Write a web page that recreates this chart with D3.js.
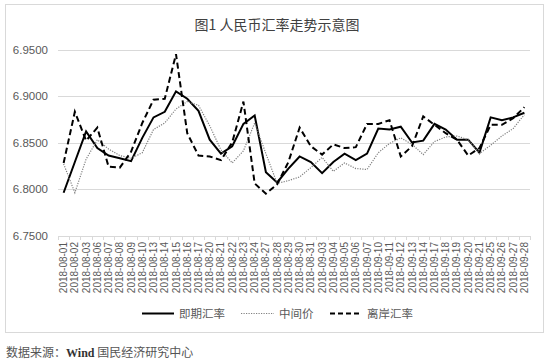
<!DOCTYPE html>
<html><head><meta charset="utf-8">
<script src="https://cdn.jsdelivr.net/npm/d3@7"></script>
<style>body{margin:0;background:#fff}svg{display:block}</style>
</head><body>
<svg id="c" width="550" height="364"></svg>
<script>
const dates = ["2018-08-01","2018-08-02","2018-08-03","2018-08-06","2018-08-07","2018-08-08","2018-08-09","2018-08-10","2018-08-13","2018-08-14","2018-08-15","2018-08-16","2018-08-17","2018-08-20","2018-08-21","2018-08-22","2018-08-23","2018-08-24","2018-08-27","2018-08-28","2018-08-29","2018-08-30","2018-08-31","2018-09-03","2018-09-04","2018-09-05","2018-09-06","2018-09-07","2018-09-10","2018-09-11","2018-09-12","2018-09-13","2018-09-14","2018-09-17","2018-09-18","2018-09-19","2018-09-20","2018-09-21","2018-09-25","2018-09-26","2018-09-27","2018-09-28"];
const spot = [6.796,6.829,6.862,6.844,6.836,6.833,6.830,6.855,6.877,6.883,6.905,6.897,6.884,6.853,6.838,6.846,6.870,6.879,6.818,6.807,6.822,6.835,6.829,6.817,6.829,6.838,6.831,6.838,6.865,6.864,6.867,6.850,6.852,6.870,6.864,6.853,6.853,6.839,6.877,6.874,6.877,6.882];
const central = [6.827,6.796,6.832,6.853,6.843,6.836,6.833,6.839,6.864,6.871,6.886,6.894,6.890,6.868,6.842,6.828,6.841,6.871,6.838,6.806,6.809,6.813,6.823,6.834,6.819,6.828,6.822,6.821,6.839,6.849,6.855,6.848,6.837,6.851,6.856,6.857,6.853,6.838,6.847,6.857,6.865,6.880];
const offshore = [6.828,6.883,6.852,6.866,6.824,6.823,6.840,6.871,6.896,6.897,6.945,6.860,6.836,6.835,6.831,6.850,6.894,6.806,6.795,6.805,6.829,6.866,6.846,6.837,6.848,6.844,6.845,6.870,6.870,6.874,6.835,6.846,6.878,6.869,6.860,6.853,6.836,6.844,6.869,6.869,6.876,6.888];
const yTicks = [6.75,6.80,6.85,6.90,6.95];
const seriesNames = ["即期汇率","中间价","离岸汇率"];
const title = "图1 人民币汇率走势示意图";

const svg = d3.select("#c");
const font = "'Liberation Sans','Noto Sans CJK SC',sans-serif";
svg.append("rect").attr("x",5.5).attr("y",4.5).attr("width",538).attr("height",328)
  .attr("fill","#fff").attr("stroke","#d9d9d9");
svg.append("text").attr("x",277).attr("y",30).attr("text-anchor","middle")
  .attr("font-family","'Noto Sans CJK SC',sans-serif").attr("font-size",14).attr("fill","#404040").text(title);

const x = d3.scaleBand().domain(dates).range([58,530]);
const y = d3.scaleLinear().domain([6.75,6.95]).range([235.5,49.5]);

svg.append("g").selectAll("line").data(yTicks.slice(1)).join("line")
  .attr("x1",58).attr("x2",530).attr("y1",d=>Math.round(y(d))+0.5).attr("y2",d=>Math.round(y(d))+0.5)
  .attr("stroke","#d9d9d9");
svg.append("g").selectAll("text").data(yTicks).join("text")
  .attr("x",48).attr("y",d=>y(d)+4).attr("text-anchor","end")
  .attr("font-family",font).attr("font-size",11.5).attr("fill","#595959")
  .text(d=>d3.format(".4f")(d));
const xa = svg.append("g").attr("transform","translate(0,236)")
  .call(d3.axisBottom(x).tickSize(0).tickPadding(0));
xa.select(".domain").attr("stroke","#d9d9d9");
xa.selectAll(".tick text").attr("font-family",font).attr("font-size",10).attr("fill","#595959")
  .attr("transform","rotate(-90)").attr("text-anchor","end").attr("dx","-6").attr("dy","3.5").attr("y",0).attr("x",0);
svg.append("g").selectAll("line").data(dates.concat(["_end"])).join("line")
  .attr("x1",(d,i)=>Math.round(58+i*x.step())+0.5).attr("x2",(d,i)=>Math.round(58+i*x.step())+0.5)
  .attr("y1",236).attr("y2",240).attr("stroke","#d9d9d9");

const line = d3.line().x((d,i)=>x(dates[i])+x.bandwidth()/2).y(d=>y(d));
const styles = [
  {data:spot, stroke:"#000", w:2, dash:null},
  {data:central, stroke:"#808080", w:1.2, dash:"1.2,1.3"},
  {data:offshore, stroke:"#000", w:2, dash:"6,3.5"}
];
styles.forEach(s=>{
  svg.append("path").datum(s.data).attr("d",line).attr("fill","none")
    .attr("stroke",s.stroke).attr("stroke-width",s.w).attr("stroke-dasharray",s.dash)
    .attr("stroke-linejoin","miter");
});

const lg = [{x1:142,x2:174,tx:179},{x1:241,x2:274,tx:279},{x1:330,x2:361,tx:367}];
lg.forEach((p,i)=>{
  const s = styles[i];
  svg.append("line").attr("x1",p.x1).attr("x2",p.x2).attr("y1",313.5).attr("y2",313.5)
    .attr("stroke",s.stroke).attr("stroke-width",s.w).attr("stroke-dasharray",i==2?"5,3":s.dash);
  svg.append("text").attr("x",p.tx).attr("y",318).attr("font-family","'Noto Sans CJK SC',sans-serif")
    .attr("font-size",11.5).attr("fill","#595959").text(seriesNames[i]);
});

const src = svg.append("text").attr("x",6).attr("y",357).attr("font-size",12).attr("fill","#555")
  .attr("font-family","'Noto Sans CJK SC',serif");
src.append("tspan").text("数据来源：");
src.append("tspan").attr("font-family","'Liberation Serif',serif").attr("font-weight","bold").attr("fill","#333").text("Wind");
src.append("tspan").text(" 国民经济研究中心");
</script>
</body></html>
